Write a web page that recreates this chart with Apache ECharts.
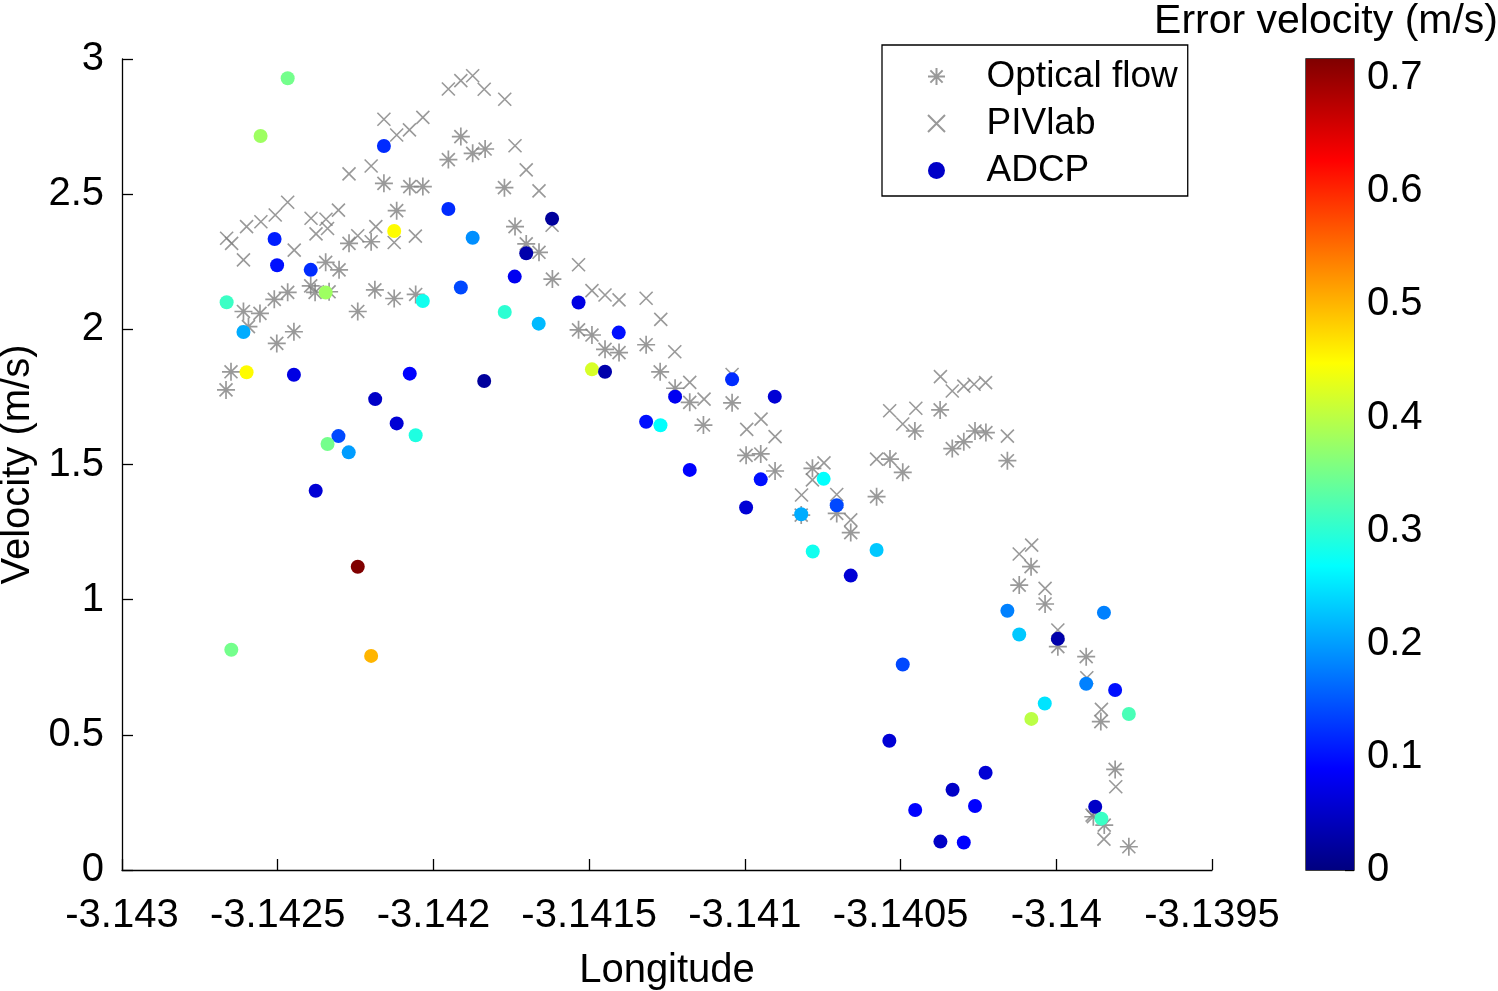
<!DOCTYPE html>
<html>
<head>
<meta charset="utf-8">
<title>Velocity along longitude</title>
<script src="https://cdn.jsdelivr.net/npm/echarts@6/dist/echarts.min.js"></script>
<style>
  html, body { margin: 0; padding: 0; background: #fff; }
  #chart { width: 1498px; height: 991px; }
</style>
</head>
<body>
<div id="chart"></div>
<script>
// [longitude, velocity m/s]
var opticalFlow = [
  [-3.142159, 2.540], [-3.142118, 2.439], [-3.142271, 2.318], [-3.142200, 2.324],
  [-3.142346, 2.248], [-3.142303, 2.220], [-3.142394, 2.161], [-3.142380, 2.137],
  [-3.142335, 2.139], [-3.142468, 2.137], [-3.142188, 2.146], [-3.142126, 2.114],
  [-3.142243, 2.066], [-3.142511, 2.111], [-3.142557, 2.059], [-3.142610, 2.066],
  [-3.142594, 2.010], [-3.142448, 1.991], [-3.142503, 1.948], [-3.142650, 1.843],
  [-3.142666, 1.776], [-3.141912, 2.713], [-3.141874, 2.651], [-3.141834, 2.667],
  [-3.141952, 2.628], [-3.142076, 2.528], [-3.142034, 2.528], [-3.141772, 2.524],
  [-3.141738, 2.380], [-3.141702, 2.316], [-3.141661, 2.285], [-3.141618, 2.186],
  [-3.142057, 2.129], [-3.141534, 1.998], [-3.141491, 1.979], [-3.141449, 1.926],
  [-3.141404, 1.914], [-3.141317, 1.943], [-3.141272, 1.843], [-3.141224, 1.782],
  [-3.141177, 1.730], [-3.141041, 1.728], [-3.141133, 1.646], [-3.140996, 1.534],
  [-3.140949, 1.539], [-3.140903, 1.476], [-3.140783, 1.486], [-3.140819, 1.313],
  [-3.140705, 1.319], [-3.140660, 1.248], [-3.140577, 1.381], [-3.140534, 1.520],
  [-3.140493, 1.471], [-3.140454, 1.624], [-3.140373, 1.702], [-3.140334, 1.559],
  [-3.140297, 1.584], [-3.140261, 1.624], [-3.140226, 1.618], [-3.140157, 1.514],
  [-3.140081, 1.122], [-3.140119, 1.054], [-3.140036, 0.984], [-3.139995, 0.826],
  [-3.139904, 0.789], [-3.139857, 0.549], [-3.139811, 0.372], [-3.139881, 0.197],
  [-3.139846, 0.166], [-3.139767, 0.086]
]

var pivlab = [
  [-3.142159, 2.777], [-3.142118, 2.719], [-3.142271, 2.575], [-3.142200, 2.604],
  [-3.142468, 2.470], [-3.142508, 2.423], [-3.142554, 2.398], [-3.142600, 2.380],
  [-3.142664, 2.337], [-3.142648, 2.318], [-3.142610, 2.257], [-3.142447, 2.293],
  [-3.142393, 2.411], [-3.142345, 2.407], [-3.142305, 2.441], [-3.142377, 2.353],
  [-3.142340, 2.373], [-3.142243, 2.346], [-3.142185, 2.380], [-3.142126, 2.321],
  [-3.141952, 2.889], [-3.141912, 2.920], [-3.141874, 2.938], [-3.141837, 2.888],
  [-3.141771, 2.851], [-3.142034, 2.784], [-3.142077, 2.738], [-3.141738, 2.679],
  [-3.141702, 2.590], [-3.141661, 2.512], [-3.142058, 2.345], [-3.141619, 2.385],
  [-3.141534, 2.239], [-3.141491, 2.143], [-3.141449, 2.127], [-3.141404, 2.109],
  [-3.141317, 2.115], [-3.141270, 2.037], [-3.141225, 1.917], [-3.141177, 1.804],
  [-3.141131, 1.742], [-3.141041, 1.833], [-3.140948, 1.668], [-3.140994, 1.630],
  [-3.140903, 1.603], [-3.140783, 1.443], [-3.140818, 1.387], [-3.140746, 1.506],
  [-3.140705, 1.389], [-3.140660, 1.295], [-3.140577, 1.520], [-3.140535, 1.699],
  [-3.140493, 1.650], [-3.140451, 1.708], [-3.140372, 1.825], [-3.140334, 1.772],
  [-3.140297, 1.790], [-3.140264, 1.797], [-3.140227, 1.803], [-3.140157, 1.605],
  [-3.140119, 1.169], [-3.140079, 1.202], [-3.140036, 1.042], [-3.139995, 0.888],
  [-3.139902, 0.711], [-3.139855, 0.594], [-3.139809, 0.308], [-3.139885, 0.203],
  [-3.139847, 0.114]
]

// [longitude, velocity m/s, error velocity m/s]
var adcp = [
  [-3.142468, 2.929, 0.35], [-3.142555, 2.715, 0.38], [-3.142159, 2.678, 0.12],
  [-3.142510, 2.334, 0.11], [-3.142502, 2.237, 0.10], [-3.142394, 2.220, 0.12],
  [-3.142346, 2.136, 0.38], [-3.142664, 2.100, 0.31], [-3.142610, 1.990, 0.21],
  [-3.142600, 1.841, 0.45], [-3.142448, 1.832, 0.07], [-3.142187, 1.742, 0.05],
  [-3.142118, 1.652, 0.06], [-3.142305, 1.605, 0.14], [-3.142340, 1.576, 0.35],
  [-3.142272, 1.545, 0.20], [-3.142126, 2.364, 0.45], [-3.142378, 1.403, 0.06],
  [-3.142243, 1.122, 0.717], [-3.142649, 0.815, 0.35], [-3.142200, 0.792, 0.50],
  [-3.141952, 2.445, 0.12], [-3.141874, 2.339, 0.19], [-3.141619, 2.409, 0.02],
  [-3.141702, 2.281, 0.03], [-3.141739, 2.195, 0.08], [-3.141912, 2.155, 0.14],
  [-3.141534, 2.099, 0.07], [-3.142034, 2.105, 0.28], [-3.141771, 2.064, 0.30],
  [-3.141662, 2.021, 0.22], [-3.141491, 1.852, 0.42], [-3.141449, 1.843, 0.03],
  [-3.142076, 1.836, 0.09], [-3.141837, 1.809, 0.02], [-3.142057, 1.608, 0.29],
  [-3.141405, 1.988, 0.10], [-3.141041, 1.815, 0.12], [-3.140904, 1.751, 0.06],
  [-3.141224, 1.751, 0.08], [-3.141317, 1.658, 0.10], [-3.141271, 1.645, 0.27],
  [-3.141177, 1.480, 0.09], [-3.140949, 1.445, 0.10], [-3.140996, 1.341, 0.06],
  [-3.140747, 1.447, 0.27], [-3.140705, 1.349, 0.14], [-3.140819, 1.316, 0.21],
  [-3.140782, 1.178, 0.28], [-3.140577, 1.184, 0.23], [-3.140660, 1.089, 0.06],
  [-3.140157, 0.959, 0.18], [-3.140493, 0.760, 0.14], [-3.140536, 0.478, 0.06],
  [-3.139847, 0.952, 0.18], [-3.140119, 0.871, 0.23], [-3.139995, 0.855, 0.03],
  [-3.139904, 0.689, 0.18], [-3.139811, 0.666, 0.10], [-3.140037, 0.616, 0.25],
  [-3.140080, 0.559, 0.40], [-3.139767, 0.577, 0.32], [-3.140227, 0.360, 0.06],
  [-3.140333, 0.297, 0.05], [-3.140261, 0.237, 0.09], [-3.140453, 0.222, 0.09],
  [-3.140372, 0.105, 0.05], [-3.140297, 0.102, 0.09], [-3.139875, 0.234, 0.05],
  [-3.139855, 0.190, 0.31]
]

var seriesNames = ['Optical flow', 'PIVlab', 'ADCP']
var errMax = 0.717
// jet colormap, evenly spaced
var jet = ['#000080', '#0000ff', '#0080ff', '#00ffff', '#80ff80', '#ffff00', '#ff8000', '#ff0000', '#800000']

var font = 'Liberation Sans, Arial, sans-serif'
var gray = '#808080'
var starPath = 'path://M0 -1L0 1M-1 0L1 0M-0.72 -0.72L0.72 0.72M-0.72 0.72L0.72 -0.72'
var crossPath = 'path://M-1 -1L1 1M-1 1L1 -1'

var chart = echarts.init(document.getElementById('chart'))

var stops = jet.map(function (c, i) {
  return {offset: i / (jet.length - 1), color: c}
})

chart.setOption({
  animation: false,
  textStyle: {fontFamily: font},
  title: {
    text: 'Error velocity (m/s)',
    right: 0,
    top: 1,
    padding: 0,
    textStyle: {fontFamily: font, fontSize: 41, fontWeight: 'normal', color: '#000'}
  },
  legend: {
    data: seriesNames,
    orient: 'vertical',
    left: 882,
    top: 45,
    padding: [13, 10, 7, 45],
    itemWidth: 90,
    itemHeight: 17,
    itemGap: 10,
    borderColor: '#000',
    borderWidth: 1.3,
    textStyle: {fontFamily: font, fontSize: 37, color: '#000', lineHeight: 36}
  },
  visualMap: {
    type: 'continuous',
    show: false,
    seriesIndex: 2,
    dimension: 2,
    min: 0,
    max: errMax,
    inRange: {color: jet}
  },
  grid: [
    {left: 122, top: 59, width: 1090, height: 811, outerBoundsMode: 'none'},
    {left: 1306, top: 59, width: 48, height: 811, outerBoundsMode: 'none',
      show: true, borderColor: '#000', borderWidth: 1.3, backgroundColor: 'transparent'}
  ],
  xAxis: [
    {
      gridIndex: 0,
      type: 'value',
      min: -3.143,
      max: -3.1395,
      interval: 0.0005,
      name: 'Longitude',
      nameLocation: 'middle',
      nameGap: 81,
      nameTextStyle: {fontFamily: font, fontSize: 40, color: '#000'},
      axisLine: {show: true, onZero: false, lineStyle: {color: '#000', width: 1.3}},
      axisTick: {show: true, inside: true, length: 11, lineStyle: {color: '#000', width: 1.3}},
      axisLabel: {
        margin: 26, fontSize: 40, color: '#000', fontFamily: font,
        showMinLabel: true, showMaxLabel: true, hideOverlap: false,
        formatter: function (v) { return String(parseFloat(v.toFixed(4))) }
      },
      splitLine: {show: false}
    },
    {
      gridIndex: 1,
      type: 'category',
      data: [''],
      axisLine: {show: false},
      axisTick: {show: false},
      axisLabel: {show: false}
    }
  ],
  yAxis: [
    {
      gridIndex: 0,
      type: 'value',
      min: 0,
      max: 3,
      interval: 0.5,
      name: 'Velocity (m/s)',
      nameLocation: 'middle',
      nameGap: 84,
      nameTextStyle: {fontFamily: font, fontSize: 40, color: '#000'},
      axisLine: {show: true, onZero: false, lineStyle: {color: '#000', width: 1.3}},
      axisTick: {show: true, inside: true, length: 11, lineStyle: {color: '#000', width: 1.3}},
      axisLabel: {margin: 18, fontSize: 40, color: '#000', fontFamily: font, hideOverlap: false,
        padding: [5, 0, 0, 0]},
      splitLine: {show: false}
    },
    {
      gridIndex: 1,
      type: 'value',
      position: 'right',
      min: 0,
      max: errMax,
      interval: 0.1,
      axisLine: {show: false},
      axisTick: {show: true, inside: true, length: 9, lineStyle: {color: '#000', width: 1.3}},
      axisLabel: {
        margin: 13, fontSize: 40, color: '#000', fontFamily: font, showMaxLabel: false,
        padding: [6, 0, 0, 0],
        formatter: function (v) { return String(parseFloat(v.toFixed(2))) }
      },
      splitLine: {show: false}
    }
  ],
  series: [
    {
      name: 'Optical flow',
      type: 'scatter',
      xAxisIndex: 0,
      yAxisIndex: 0,
      symbol: starPath,
      symbolSize: 18,
      itemStyle: {color: 'rgba(0,0,0,0)', borderColor: gray, borderWidth: 1.7},
      emphasis: {disabled: true},
      data: opticalFlow
    },
    {
      name: 'PIVlab',
      type: 'scatter',
      xAxisIndex: 0,
      yAxisIndex: 0,
      symbol: crossPath,
      symbolSize: 13,
      itemStyle: {color: 'rgba(0,0,0,0)', borderColor: gray, borderWidth: 1.6},
      emphasis: {disabled: true},
      data: pivlab
    },
    {
      name: 'ADCP',
      type: 'scatter',
      xAxisIndex: 0,
      yAxisIndex: 0,
      symbol: 'circle',
      symbolSize: 14,
      itemStyle: {color: '#0000c8', opacity: 1},
      emphasis: {disabled: true},
      data: adcp
    },
    {
      name: 'colorbar',
      type: 'bar',
      xAxisIndex: 1,
      yAxisIndex: 1,
      barWidth: '100%',
      silent: true,
      itemStyle: {color: new echarts.graphic.LinearGradient(0, 1, 0, 0, stops)},
      data: [errMax]
    }
  ]
})
</script>
</body>
</html>
